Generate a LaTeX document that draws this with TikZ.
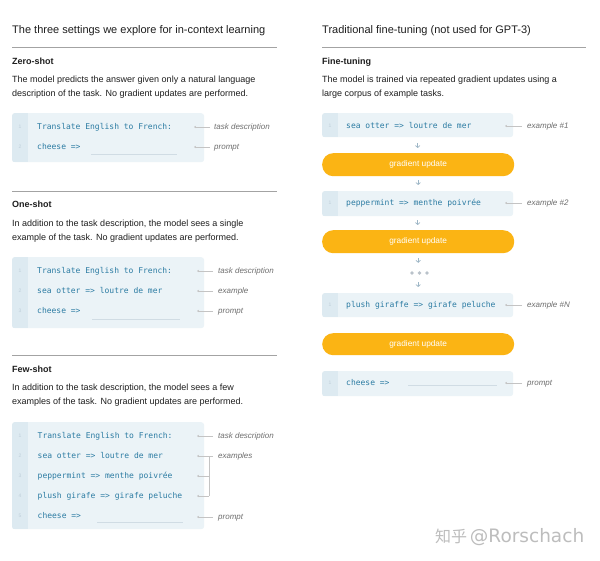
\documentclass[tikz,border=0pt]{standalone}
\usepackage{fontspec}
\setmainfont{Liberation Sans}
\newfontfamily\codefont{DejaVu Sans Mono}
\newfontfamily\cjkfont{Noto Sans CJK SC}
\newfontfamily\wmfont{DejaVu Sans}
\usetikzlibrary{arrows.meta}
\definecolor{codeblue}{HTML}{2B7BA2}
\definecolor{boxfill}{HTML}{EBF3F7}
\definecolor{stripfill}{HTML}{DDEAF1}
\definecolor{lngray}{HTML}{BFCFDA}
\definecolor{anngray}{HTML}{6E6E6E}
\definecolor{annline}{HTML}{C4C4C4}
\definecolor{pillorange}{HTML}{FBB414}
\definecolor{rulegray}{HTML}{A3A3A3}
\definecolor{titlecol}{HTML}{1E1E1E}
\definecolor{arrowblue}{HTML}{9DB6C6}
\definecolor{dotgray}{HTML}{B9C2CA}
\definecolor{ulcol}{HTML}{D0DCE4}
\definecolor{wmgray}{HTML}{BDBDBD}
\tikzset{
  txt/.style={anchor=west,inner sep=0pt,text height=.72em,text depth=.22em},
  head/.style={txt,font=\fontsize{11}{13}\selectfont,text=titlecol},
  sub/.style={txt,font=\fontsize{9}{11}\selectfont\bfseries,text=titlecol},
  desc/.style={txt,font=\fontsize{9}{11}\selectfont,text=titlecol},
  code/.style={txt,font=\codefont\fontsize{8}{10}\selectfont,text=codeblue},
  lnum/.style={inner sep=0pt,font=\fontsize{5}{6}\selectfont,text=lngray},
  ann/.style={txt,font=\fontsize{8}{10}\selectfont\itshape,text=anngray},
  codebox/.style={fill=boxfill,rounded corners=3pt,inner sep=0pt,anchor=north west},
  pill/.style={fill=pillorange,rounded corners=11pt,inner sep=0pt,anchor=north west,
    text=white,font=\fontsize{8.3}{10}\selectfont},
  rulel/.style={draw=rulegray,line width=0.9pt},
  annarrow/.style={draw=annline,line width=0.5pt,-{Stealth[length=2pt,width=2.4pt]}},
  annplain/.style={draw=annline,line width=0.5pt},
  darrow/.style={draw=arrowblue,line width=0.7pt,-{Straight Barb[length=2pt,width=4.5pt]}},
  uline/.style={draw=ulcol,line width=0.6pt}
}
\newcommand\gptbox[5]{%
  \node[codebox,minimum width=#4pt,minimum height=#5pt] (#1) at (#2,#3) {};
  \begin{scope}
    \clip[rounded corners=3pt] (#1.north west) rectangle (#1.south east);
    \fill[stripfill] (#1.north west) rectangle ([xshift=16pt]#1.south west);
  \end{scope}}
\begin{document}
\begin{tikzpicture}[x=1pt,y=-1pt]
\useasboundingbox[fill=white] (0,0) rectangle (600,561);

%% ================= LEFT PANEL =================
\node[head] (lt) at (12,31) {The three settings we explore for in-context learning};
\draw[rulel] (12,47) -- (277,47);

% Zero-shot
\node[sub] (zs) at (12,62) {Zero-shot};
\node[desc] (zd1) at (12,80) {The model predicts the answer given only a natural language};
\node[desc] (zd2) at (12,94) {description of the task. No gradient updates are performed.};
\gptbox{zbox}{12}{113}{192}{49}
\node[lnum] (zn1) at (20,127) {1};
\node[lnum] (zn2) at (20,147) {2};
\node[code] (zc1) at (37,127) {Translate English to French:};
\node[code] (zc2) at (37,147) {cheese =>};
\draw[uline] (91,154) -- (177,154);
\node[ann] (za1) at (214,127) {task description};
\node[ann] (za2) at (214,147) {prompt};
\coordinate (zt1) at (194,127);
\coordinate (zt2) at (194,147);
\draw[annarrow] ([xshift=-4pt]za1.west) -- (zt1);
\draw[annarrow] ([xshift=-4pt]za2.west) -- (zt2);

\draw[rulel] (12,191) -- (277,191);

% One-shot
\node[sub] (os) at (12,205) {One-shot};
\node[desc] (od1) at (12,224) {In addition to the task description, the model sees a single};
\node[desc] (od2) at (12,238) {example of the task. No gradient updates are performed.};
\gptbox{obox}{12}{257}{192}{71}
\node[lnum] (on1) at (20,271) {1};
\node[lnum] (on2) at (20,291) {2};
\node[lnum] (on3) at (20,311) {3};
\node[code] (oc1) at (37,271) {Translate English to French:};
\node[code] (oc2) at (37,291) {sea otter => loutre de mer};
\node[code] (oc3) at (37,311) {cheese =>};
\draw[uline] (92,319) -- (180,319);
\node[ann] (oa1) at (218,271) {task description};
\node[ann] (oa2) at (218,291) {example};
\node[ann] (oa3) at (218,311) {prompt};
\coordinate (ot1) at (197,271);
\coordinate (ot2) at (197,291);
\coordinate (ot3) at (197,311);
\draw[annarrow] ([xshift=-5pt]oa1.west) -- (ot1);
\draw[annarrow] ([xshift=-5pt]oa2.west) -- (ot2);
\draw[annarrow] ([xshift=-5pt]oa3.west) -- (ot3);

\draw[rulel] (12,355) -- (277,355);

% Few-shot
\node[sub] (fs) at (12,370) {Few-shot};
\node[desc] (fd1) at (12,388) {In addition to the task description, the model sees a few};
\node[desc] (fd2) at (12,402) {examples of the task. No gradient updates are performed.};
\gptbox{fbox}{12}{422}{192}{107}
\node[lnum] (fn1) at (20,436) {1};
\node[lnum] (fn2) at (20,456) {2};
\node[lnum] (fn3) at (20,476) {3};
\node[lnum] (fn4) at (20,496) {4};
\node[lnum] (fn5) at (20,516) {5};
\node[code] (fc1) at (37.5,436) {Translate English to French:};
\node[code] (fc2) at (37.5,456) {sea otter => loutre de mer};
\node[code] (fc3) at (37.5,476) {peppermint => menthe poivrée};
\node[code] (fc4) at (37.5,496) {plush girafe => girafe peluche};
\node[code] (fc5) at (37.5,516) {cheese =>};
\draw[uline] (97,522) -- (183,522);
\node[ann] (fa1) at (218,436) {task description};
\node[ann] (fa2) at (218,456) {examples};
\node[ann] (fa5) at (218,517) {prompt};
\coordinate (ft1) at (197,436);
\coordinate (ft2) at (197,456);
\coordinate (ft3) at (197,476);
\coordinate (ft4) at (197,496);
\coordinate (ft5) at (197,517);
\coordinate (fb2) at (209,456);
\coordinate (fb3) at (209,476);
\coordinate (fb4) at (209,496);
\draw[annarrow] ([xshift=-5pt]fa1.west) -- (ft1);
\draw[annarrow] ([xshift=-5pt]fa2.west) -- (ft2);
\draw[annplain] (fb2) -- (fb4);
\draw[annarrow] (fb3) -- (ft3);
\draw[annarrow] (fb4) -- (ft4);
\draw[annarrow] ([xshift=-5pt]fa5.west) -- (ft5);

%% ================= RIGHT PANEL =================
\node[head] (rt) at (322,31) {Traditional fine-tuning (not used for GPT-3)};
\draw[rulel] (322,47) -- (586,47);
\node[sub] (ft) at (322,62) {Fine-tuning};
\node[desc] (rd1) at (322,80) {The model is trained via repeated gradient updates using a};
\node[desc] (rd2) at (322,94) {large corpus of example tasks.};

\gptbox{b1}{322}{113}{191}{24}
\node[lnum] (b1n) at (330,126) {1};
\node[code] (b1c) at (346,126) {sea otter => loutre de mer};
\node[pill,minimum width=192pt,minimum height=23pt] (p1) at (322,153) {gradient update};
\gptbox{b2}{322}{191}{191}{25}
\node[lnum] (b2n) at (330,203) {1};
\node[code] (b2c) at (346,203) {peppermint => menthe poivrée};
\node[pill,minimum width=192pt,minimum height=23pt] (p2) at (322,230) {gradient update};
\node[inner sep=0pt,minimum width=20pt,minimum height=6pt] (dots) at (419.5,273) {};
\fill[dotgray] (412,273) circle (1.9) (419.5,273) circle (1.9) (427,273) circle (1.9);
\gptbox{b3}{322}{293}{191}{24}
\node[lnum] (b3n) at (330,305) {1};
\node[code] (b3c) at (346,305) {plush giraffe => girafe peluche};
\node[pill,minimum width=192pt,minimum height=22pt] (p3) at (322,333) {gradient update};
\gptbox{b4}{322}{371}{191}{25}
\node[lnum] (b4n) at (330,383) {1};
\node[code] (b4c) at (346,383) {cheese =>};
\draw[uline] (408,385.5) -- (497,385.5);

\draw[darrow,shorten <=6pt,shorten >=5pt] (b1.south) -- (b1.south |- p1.north);
\draw[darrow,shorten <=4pt,shorten >=6pt] (p1.south) -- (p1.south |- b2.north);
\draw[darrow,shorten <=4pt,shorten >=5pt] (b2.south) -- (b2.south |- p2.north);
\draw[darrow,shorten <=5pt,shorten >=7pt] (p2.south) -- (p2.south |- dots.north);
\draw[darrow,shorten <=6pt,shorten >=6pt] (p2.south |- dots.south) -- (p2.south |- b3.north);

\node[ann] (ra1) at (527,126) {example \#1};
\node[ann] (ra2) at (527,203) {example \#2};
\node[ann] (ra3) at (527,305) {example \#N};
\node[ann] (ra4) at (527,383) {prompt};
\coordinate (rt1) at (505,126);
\coordinate (rt2) at (505,203);
\coordinate (rt3) at (505,305);
\coordinate (rt4) at (505,383);
\draw[annarrow] ([xshift=-5pt]ra1.west) -- (rt1);
\draw[annarrow] ([xshift=-5pt]ra2.west) -- (rt2);
\draw[annarrow] ([xshift=-5pt]ra3.west) -- (rt3);
\draw[annarrow] ([xshift=-5pt]ra4.west) -- (rt4);

%% watermark
\node[anchor=west,inner sep=0pt,text=wmgray] (wm) at (435,537)
  {{\cjkfont\fontsize{16}{18}\selectfont 知乎} {\wmfont\fontsize{18.5}{20}\selectfont @Rorschach}};
\end{tikzpicture}
\end{document}
